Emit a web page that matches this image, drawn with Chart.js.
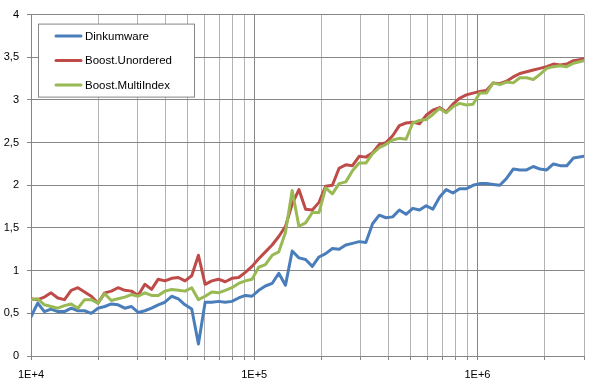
<!DOCTYPE html>
<html lang="en">
<head>
  <meta charset="UTF-8" />
  <title>Dinkumware vs Boost</title>
  <style>
    body {
      margin: 0;
      background: #fff;
    }
    canvas {
      display: block;
    }
  </style>
</head>
<body>
  <canvas id="chart" width="606" height="390"></canvas>

  <script src="https://cdn.jsdelivr.net/npm/chart.js"></script>
  <script>
    // number of elements
    const sizes = [
      10000, 10715, 11482, 12303, 13183, 14125, 15136, 16218, 17378, 18621,
      19953, 21380, 22909, 24547, 26303, 28184, 30200, 32359, 34674, 37154,
      39811, 42658, 45709, 48978, 52481, 56234, 60256, 64565, 69183, 74131,
      79433, 85114, 91201, 97724, 104713, 112202, 120226, 128825, 138038, 147911,
      158489, 169824, 181970, 194984, 208930, 223872, 239883, 257040, 275423, 295121,
      316228, 338844, 363078, 389045, 416869, 446684, 478630, 512861, 549541, 588844,
      630957, 676083, 724436, 776247, 831764, 891251, 954993, 1023293, 1096478, 1174898,
      1258925, 1348963, 1445440, 1548817, 1659587, 1778279, 1905461, 2041738, 2187762, 2344229,
      2511886, 2691535, 3000000
    ];

    const dinkumware = [
      0.46, 0.62, 0.52, 0.55, 0.52, 0.52, 0.56, 0.53, 0.53, 0.50,
      0.56, 0.58, 0.61, 0.60, 0.56, 0.58, 0.51, 0.53, 0.56, 0.60,
      0.63, 0.70, 0.67, 0.60, 0.55, 0.14, 0.63, 0.63, 0.64, 0.63,
      0.64, 0.68, 0.71, 0.70, 0.77, 0.82, 0.85, 0.97, 0.83, 1.23,
      1.15, 1.13, 1.05, 1.16, 1.20, 1.26, 1.25, 1.30, 1.32, 1.34,
      1.33, 1.55, 1.65, 1.62, 1.63, 1.71, 1.66, 1.73, 1.71, 1.76,
      1.72, 1.86, 1.95, 1.91, 1.96, 1.96, 2.00, 2.02, 2.02, 2.01,
      2.00, 2.08, 2.19, 2.18, 2.18, 2.22, 2.19, 2.18, 2.25, 2.23,
      2.23, 2.32, 2.34
    ];

    const boostUnordered = [
      0.67, 0.66, 0.69, 0.74, 0.68, 0.66, 0.77, 0.80, 0.75, 0.70,
      0.62, 0.74, 0.76, 0.80, 0.77, 0.76, 0.71, 0.84, 0.78, 0.90,
      0.88, 0.91, 0.92, 0.88, 0.94, 1.18, 0.84, 0.88, 0.90, 0.87,
      0.91, 0.92, 0.98, 1.05, 1.14, 1.22, 1.30, 1.40, 1.52, 1.78,
      1.95, 1.72, 1.71, 1.80, 1.99, 2.00, 2.20, 2.24, 2.23, 2.34,
      2.33, 2.38, 2.48, 2.50, 2.58, 2.70, 2.73, 2.74, 2.72, 2.82,
      2.88, 2.91, 2.86, 2.95, 3.02, 3.06, 3.08, 3.10, 3.11, 3.20,
      3.19, 3.22, 3.27, 3.31, 3.33, 3.35, 3.37, 3.39, 3.42, 3.41,
      3.42, 3.46, 3.48
    ];

    const boostMultiIndex = [
      0.66, 0.67, 0.60, 0.58, 0.56, 0.59, 0.61, 0.56, 0.66, 0.66,
      0.62, 0.73, 0.65, 0.67, 0.69, 0.72, 0.70, 0.74, 0.71, 0.71,
      0.76, 0.78, 0.77, 0.76, 0.80, 0.66, 0.70, 0.75, 0.74, 0.77,
      0.80, 0.85, 0.88, 0.90, 1.04, 1.07, 1.18, 1.22, 1.45, 1.94,
      1.52, 1.56, 1.68, 1.68, 1.97, 1.90, 2.02, 2.04, 2.17, 2.26,
      2.26, 2.37, 2.44, 2.48, 2.53, 2.55, 2.54, 2.73, 2.76, 2.77,
      2.83, 2.90, 2.85, 2.92, 2.96, 2.94, 2.95, 3.08, 3.08, 3.20,
      3.18, 3.21, 3.20, 3.26, 3.26, 3.24, 3.30, 3.37, 3.39, 3.40,
      3.39, 3.43, 3.46
    ];

    const seriesNames = ['Dinkumware', 'Boost.Unordered', 'Boost.MultiIndex'];
    const seriesColors = ['#4a7ebb', '#be4b48', '#98b954'];
    const xTickLabels = { 10000: '1E+4', 100000: '1E+5', 1000000: '1E+6' };

    const AXIS = '#868686';
    const MINOR = '#b3b3b3';
    const FONT = '"Liberation Sans", Arial, sans-serif';

    // log grid: 1..9 in every decade up to 3E+6
    const xGrid = [];
    for (let p = 10000; p <= 1000000; p *= 10) {
      for (let m = 1; m <= 9; m++) {
        if (m * p <= 3000000) xGrid.push(m * p);
      }
    }

    const toPoints = ys => sizes.map((x, i) => ({ x, y: ys[i] }));

    const boxLegend = {
      id: 'boxLegend',
      afterDraw(chart) {
        const ctx = chart.ctx;
        const a = chart.chartArea;
        const bx = a.left + 7.5, by = a.top + 9.5;
        ctx.save();
        ctx.fillStyle = '#fff';
        ctx.fillRect(bx, by, 156, 73);
        ctx.strokeStyle = AXIS;
        ctx.lineWidth = 1;
        ctx.strokeRect(bx, by, 156, 73);
        ctx.font = '11.5px ' + FONT;
        ctx.textBaseline = 'middle';
        ctx.lineCap = 'round';
        chart.data.datasets.forEach((ds, i) => {
          const ly = by + 12 + i * 24.5;
          ctx.strokeStyle = ds.borderColor;
          ctx.lineWidth = 3;
          ctx.beginPath();
          ctx.moveTo(a.left + 25, ly);
          ctx.lineTo(a.left + 50, ly);
          ctx.stroke();
          ctx.fillStyle = '#000';
          ctx.fillText(ds.label, a.left + 54, ly + 0.5);
        });
        ctx.restore();
      }
    };

    const lineSet = (i, ys, order) => ({
      label: seriesNames[i],
      data: toPoints(ys),
      borderColor: seriesColors[i],
      backgroundColor: seriesColors[i],
      borderWidth: 3,
      borderJoinStyle: 'round',
      borderCapStyle: 'round',
      pointRadius: 0,
      tension: 0,
      fill: false,
      order
    });

    new Chart(document.getElementById('chart'), {
      type: 'line',
      data: {
        datasets: [
          lineSet(0, dinkumware, 2),
          lineSet(1, boostUnordered, 1),
          lineSet(2, boostMultiIndex, 0)
        ]
      },
      options: {
        responsive: false,
        devicePixelRatio: 1,
        animation: false,
        layout: { padding: { left: 0, right: 22, top: 14, bottom: 0 } },
        plugins: {
          legend: { display: false },
          tooltip: { enabled: false }
        },
        scales: {
          x: {
            type: 'logarithmic',
            min: 10000,
            max: 3000000,
            afterBuildTicks: scale => {
              scale.ticks = xGrid.map(v => ({ value: v, major: !!xTickLabels[v] }));
            },
            afterFit: scale => { scale.height = 34; },
            grid: {
              color: ctx => (ctx.tick && xTickLabels[ctx.tick.value]) ? AXIS : MINOR,
              tickLength: 4,
              tickColor: AXIS
            },
            border: { color: AXIS },
            ticks: {
              autoSkip: false,
              maxRotation: 0,
              padding: 8,
              color: '#000',
              font: { family: FONT, size: 11 },
              callback: v => xTickLabels[v] || ''
            }
          },
          y: {
            min: 0,
            max: 4,
            afterFit: scale => { scale.width = 31; },
            grid: { color: AXIS, tickLength: 4 },
            border: { color: AXIS },
            ticks: {
              stepSize: 0.5,
              padding: 8,
              color: '#000',
              font: { family: FONT, size: 11 },
              callback: v => String(v).replace('.', ',')
            }
          }
        }
      },
      plugins: [boxLegend]
    });
  </script>
</body>
</html>
